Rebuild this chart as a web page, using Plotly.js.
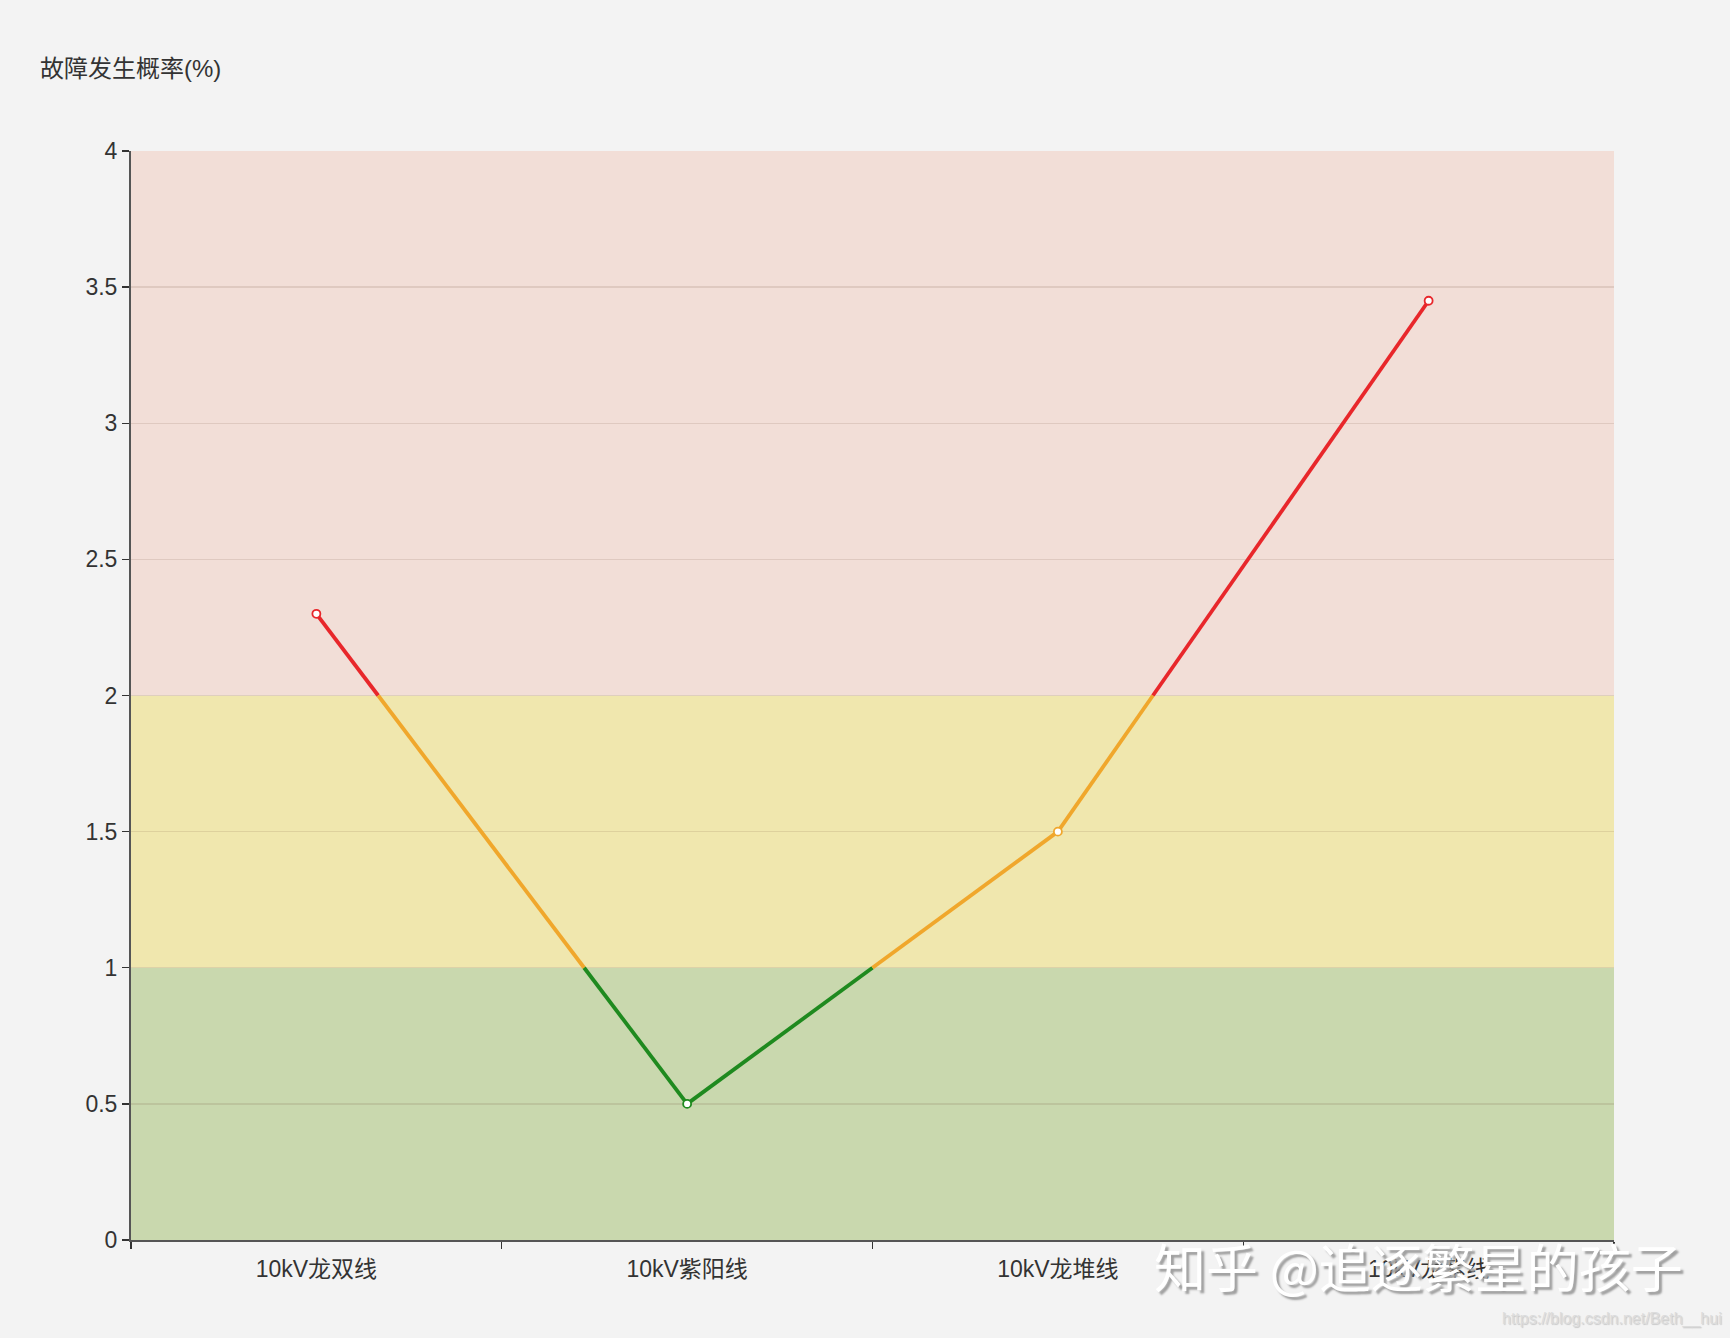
<!DOCTYPE html>
<html>
<head>
<meta charset="utf-8">
<script src="https://cdn.plot.ly/plotly-3.0.1.min.js"></script>
<style>
html,body{margin:0;padding:0;background:#f3f3f3;}
#chart{width:1730px;height:1338px;}
</style>
</head>
<body>
<div id="chart"></div>
<script>
// ---- data ----
const categories = ['10kV龙双线', '10kV紫阳线', '10kV龙堆线', '10kV龙紫线'];
const rates = [2.3, 0.5, 1.5, 3.45];
const levelBounds = [0, 1, 2, 4];          // green: 0-1, yellow: 1-2, red: 2-4
const yTicks = [0, 0.5, 1, 1.5, 2, 2.5, 3, 3.5, 4];
const yTickText = ['0', '0.5', '1', '1.5', '2', '2.5', '3', '3.5', '4'];

// ---- styles ----
const lineColors = ['#1f8a1f', '#f0a72c', '#e8272b'];
const bandColors = ['#c9d8ae', '#f0e7ae', '#f2ded7'];
const FONT = 'Liberation Sans, Noto Sans CJK SC, sans-serif';

function levelOf(v) {
  if (v <= levelBounds[1]) return 0;
  if (v <= levelBounds[2]) return 1;
  return 2;
}

// split the polyline where it crosses level boundaries so each piece has its level colour
const xs = categories.map((c, i) => i);
const traces = [];
for (let i = 0; i < rates.length - 1; i++) {
  const x0 = xs[i], x1 = xs[i + 1], y0 = rates[i], y1 = rates[i + 1];
  const ts = [0, 1];
  [levelBounds[1], levelBounds[2]].forEach(b => {
    if ((y0 - b) * (y1 - b) < 0) ts.push((b - y0) / (y1 - y0));
  });
  ts.sort((a, b) => a - b);
  for (let k = 0; k < ts.length - 1; k++) {
    const ta = ts[k], tb = ts[k + 1];
    const ya = y0 + (y1 - y0) * ta, yb = y0 + (y1 - y0) * tb;
    const lvl = levelOf((ya + yb) / 2);
    traces.push({
      x: [x0 + (x1 - x0) * ta, x0 + (x1 - x0) * tb],
      y: [ya, yb],
      mode: 'lines',
      line: {color: lineColors[lvl], width: 3.8},
      hoverinfo: 'skip',
      showlegend: false
    });
  }
}
traces.push({
  x: xs,
  y: rates,
  mode: 'markers',
  marker: {
    size: 8,
    color: '#ffffff',
    line: {width: 1.8, color: rates.map(v => lineColors[levelOf(v)])}
  },
  showlegend: false
});

const shapes = [];
for (let i = 0; i < bandColors.length; i++) {
  shapes.push({
    type: 'rect', xref: 'paper', yref: 'y',
    x0: 0, x1: 1, y0: levelBounds[i], y1: levelBounds[i + 1],
    fillcolor: bandColors[i], line: {width: 0}, layer: 'below'
  });
}

const layout = {
  width: 1730, height: 1338,
  paper_bgcolor: '#f3f3f3',
  plot_bgcolor: '#f3f3f3',
  margin: {l: 131, r: 116, t: 151, b: 98},
  font: {family: FONT, color: '#333333', size: 20},
  title: {
    text: '故障发生概率(%)',
    x: 40 / 1730, xanchor: 'left',
    y: 1 - 69 / 1338, yanchor: 'middle',
    font: {family: FONT, size: 24, color: '#333333'}
  },
  showlegend: false,
  shapes: shapes,
  xaxis: {
    range: [-0.5, 3.5],
    tickmode: 'array',
    tickvals: xs,
    ticktext: categories,
    ticks: '',
    ticklabelstandoff: 7,
    showgrid: false,
    zeroline: false,
    showline: true,
    linecolor: '#555555',
    linewidth: 2,
    tickfont: {size: 23, color: '#333333'},
    minor: {tick0: -0.5, dtick: 1, ticks: 'outside', ticklen: 7, tickcolor: '#333333', tickwidth: 1.3, showgrid: false},
    fixedrange: true
  },
  yaxis: {
    range: [0, 4],
    tickmode: 'array',
    tickvals: yTicks,
    ticktext: yTickText,
    ticks: 'outside',
    ticklen: 7,
    tickcolor: '#333333',
    tickwidth: 1.3,
    showgrid: true,
    gridcolor: 'rgba(110,80,60,0.14)',
    gridwidth: 1.3,
    zeroline: false,
    showline: true,
    linecolor: '#555555',
    linewidth: 2,
    tickfont: {size: 23, color: '#333333'},
    fixedrange: true
  },
  annotations: [
    {
      text: '知乎 @追逐繁星的孩子',
      xref: 'paper', yref: 'paper',
      x: 1, xanchor: 'right', xshift: 71,
      y: 0, yanchor: 'top', yshift: 14,
      showarrow: false,
      font: {family: 'Noto Sans CJK SC, sans-serif', size: 52, color: '#ffffff', shadow: '3px 3px 2px #a0a0a0'}
    },
    {
      text: 'https://blog.csdn.net/Beth__hui',
      xref: 'paper', yref: 'paper',
      x: 1, xanchor: 'right', xshift: 110,
      y: 0, yanchor: 'top', yshift: -68,
      showarrow: false,
      font: {family: 'Liberation Sans, sans-serif', size: 16, color: '#dcdcdc', shadow: '1px 1px 1px #c8c8c8'}
    }
  ]
};

Plotly.newPlot('chart', traces, layout, {staticPlot: true, displayModeBar: false});
</script>
</body>
</html>
